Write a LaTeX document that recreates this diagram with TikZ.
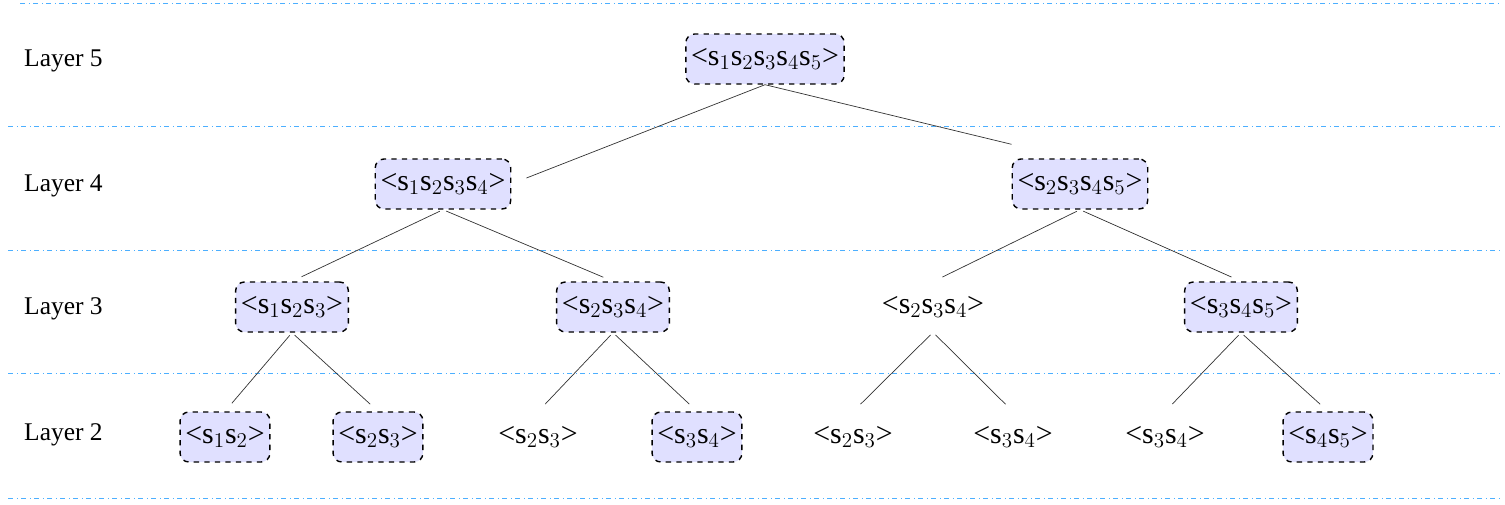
\documentclass[tikz,border=0pt]{standalone}
\usepackage{fontspec}
\setmainfont{Liberation Serif}
\usetikzlibrary{calc}
\colorlet{boxfill}{blue!12!white}
\colorlet{sepblue}{blue!45!cyan!70!white}
\tikzset{
  seq/.style={rectangle, rounded corners=5pt, draw=black, thick, dashed, fill=boxfill, minimum height=1cm, inner xsep=3pt, font=\fontsize{17}{20}\selectfont},
  plain/.style={rectangle, draw=none, minimum height=1cm, inner xsep=3pt, font=\fontsize{17}{20}\selectfont},
  layer/.style={anchor=west, font=\fontsize{14.5}{17}\selectfont},
  sep/.style={sepblue, dash dot, thin},
  edge/.style={thin, black!80}
}

\begin{document}
\begin{tikzpicture}[x=0.02cm, y=-0.02cm]
\useasboundingbox (0,0) rectangle (1505,504);

% separators
\draw[sep] (20,3) -- (1500,3);
\foreach \yy in {126,250,373,498}
  \draw[sep] (8,\yy) -- (1500,\yy);

% layer labels
\node[layer] (L5) at (18,61) {Layer 5};
\node[layer] (L4) at (18,186) {Layer 4};
\node[layer] (L3) at (18,309) {Layer 3};
\node[layer] (L2) at (18,435) {Layer 2};

% layer 5
\node[seq] (a) at (765,59) {<s$_1$s$_2$s$_3$s$_4$s$_5$>};
% layer 4
\node[seq] (b1) at (443,184) {<s$_1$s$_2$s$_3$s$_4$>};
\node[seq] (b2) at (1080,184) {<s$_2$s$_3$s$_4$s$_5$>};
% layer 3
\node[seq] (c1) at (292,307) {<s$_1$s$_2$s$_3$>};
\node[seq] (c2) at (613,307) {<s$_2$s$_3$s$_4$>};
\node[plain] (c3) at (933,307) {<s$_2$s$_3$s$_4$>};
\node[seq] (c4) at (1241,307) {<s$_3$s$_4$s$_5$>};
% layer 2
\node[seq] (d1) at (225,437) {<s$_1$s$_2$>};
\node[seq] (d2) at (378,437) {<s$_2$s$_3$>};
\node[plain] (d3) at (538,437) {<s$_2$s$_3$>};
\node[seq] (d4) at (697,437) {<s$_3$s$_4$>};
\node[plain] (d5) at (853,437) {<s$_2$s$_3$>};
\node[plain] (d6) at (1013,437) {<s$_3$s$_4$>};
\node[plain] (d7) at (1165,437) {<s$_3$s$_4$>};
\node[seq] (d8) at (1328,437) {<s$_4$s$_5$>};

% edges
\draw[edge] (a.south) -- ($(b1.east)+(15,-6)$);
\draw[edge] (a.south) -- ($(b2.north west)+(0,-14)$);
\foreach \p/\l/\r in {b1/c1/c2, b2/c3/c4, c1/d1/d2, c2/d3/d4, c3/d5/d6, c4/d7/d8} {
  \draw[edge, shorten <=2pt, shorten >=6pt] (\p.south) -- (\l.north);
  \draw[edge, shorten <=2pt, shorten >=6pt] (\p.south) -- (\r.north);
}
\end{tikzpicture}
\end{document}
